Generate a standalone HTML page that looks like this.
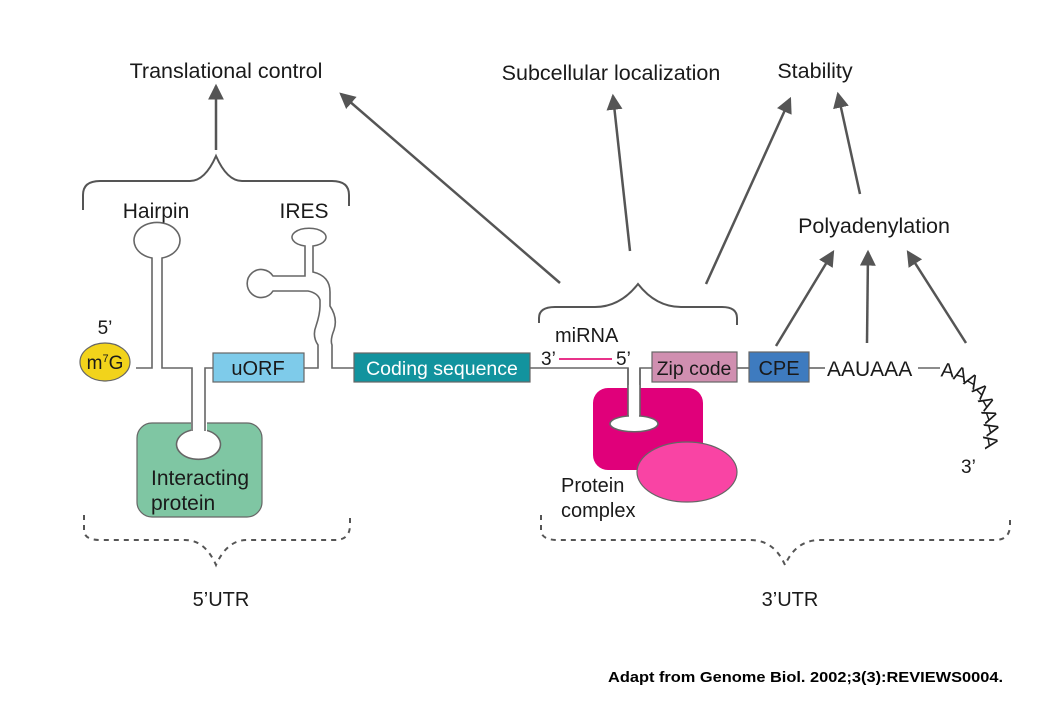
<!DOCTYPE html>
<html><head><meta charset="utf-8"><style>
html,body{margin:0;padding:0;background:#fff}
svg{display:block}
text{font-family:"Liberation Sans",Arial,sans-serif;fill:#1a1a1a}
</style></head><body>
<svg width="1059" height="709" viewBox="0 0 1059 709" xmlns="http://www.w3.org/2000/svg">
<defs>
<marker id="ah" markerWidth="16" markerHeight="16" refX="12" refY="7" orient="auto" markerUnits="userSpaceOnUse" viewBox="0 0 14 14">
<path d="M0,0 L14,7 L0,14 z" fill="#555"/>
</marker>
</defs>
<g stroke="#555" stroke-width="2.5" fill="none">
<line x1="216" y1="150" x2="216" y2="86" marker-end="url(#ah)"/>
<line x1="560" y1="283" x2="341" y2="94" marker-end="url(#ah)"/>
<line x1="630" y1="251" x2="613" y2="96" marker-end="url(#ah)"/>
<line x1="706" y1="284" x2="790" y2="99" marker-end="url(#ah)"/>
<line x1="860" y1="194" x2="838" y2="94" marker-end="url(#ah)"/>
<line x1="776" y1="346" x2="833" y2="252" marker-end="url(#ah)"/>
<line x1="867" y1="343" x2="868" y2="252" marker-end="url(#ah)"/>
<line x1="966" y1="343" x2="908" y2="252" marker-end="url(#ah)"/>
</g>
<g stroke="#555" stroke-width="2" fill="none">
<path d="M83,210 V195 Q83,181 100,181 H190 Q205,181 216,156 Q227,181 242,181 H332 Q349,181 349,195 V206"/>
<path d="M539,323 V318 Q539,307 555,307 H595 Q620,307 638,284 Q656,307 681,307 H722 Q737,307 737,318 V325"/>
</g>
<g stroke="#555" stroke-width="2" fill="none" stroke-dasharray="5,5">
<path d="M84,515 V530 Q84,540 100,540 H185 Q205,540 216,565 Q227,540 247,540 H335 Q350,540 350,525 V515"/>
<path d="M541,515 V530 Q541,540 558,540 H750 Q774,540 785,565 Q796,540 820,540 H995 Q1010,540 1010,525 V515"/>
</g>
<g stroke="#666" stroke-width="1.6" fill="#fff">
<path d="M136,368 H152 V258 A23,18 0 1 1 162,258 V368 H192 V430 A22,15 0 1 0 205,430 V368 H213" />
<path d="M304,368 H318 V345 Q312,336 316,326 Q320,314 320,306 V300 Q318,293 308,291 H273 A14,14 0 1 1 273,276 H305 V246 A17,9 0 1 1 313,246 V272 Q330,276 330,292 V306 Q338,318 334,330 Q330,340 332,345 V368 H354"/>
<path d="M530,368 H628 V415 A24,9 0 1 0 640,415 V368 H652" fill="none"/>
<line x1="737" y1="368" x2="749" y2="368"/>
<line x1="809" y1="368" x2="825" y2="368"/>
<line x1="918" y1="368" x2="940" y2="368"/>
</g>
<ellipse cx="105" cy="362" rx="25" ry="19" fill="#f2d31b" stroke="#666" stroke-width="1.2"/>
<text x="105" y="369" font-size="19" text-anchor="middle">m<tspan font-size="11" dy="-7">7</tspan><tspan dy="7">G</tspan></text>
<text x="105" y="334" font-size="19" text-anchor="middle">5’</text>
<rect x="213" y="353" width="91" height="29" fill="#7ecbea" stroke="#666" stroke-width="1.2"/>
<text x="258" y="375" font-size="20" text-anchor="middle">uORF</text>
<rect x="137" y="423" width="125" height="94" rx="15" fill="#7fc6a3" stroke="#666" stroke-width="1.2"/>
<path d="M192,430 A22,15 0 1 0 205,430" fill="#fff" stroke="#666" stroke-width="1.6"/>
<rect x="191" y="420" width="16" height="12" fill="#fff"/>
<line x1="192" y1="420" x2="192" y2="431" stroke="#666" stroke-width="1.6"/>
<line x1="205" y1="420" x2="205" y2="431" stroke="#666" stroke-width="1.6"/>
<text x="151" y="485" font-size="21">Interacting</text>
<text x="151" y="510" font-size="21">protein</text>
<rect x="354" y="353" width="176" height="29" fill="#12939e" stroke="#666" stroke-width="1.2"/>
<text x="442" y="375" font-size="19.5" text-anchor="middle" style="fill:#fff">Coding sequence</text>
<rect x="593" y="388" width="110" height="82" rx="15" fill="#e0007a"/>
<rect x="628" y="385" width="12" height="32" fill="#fff"/>
<line x1="628" y1="368" x2="628" y2="416" stroke="#666" stroke-width="1.6"/>
<line x1="640" y1="368" x2="640" y2="416" stroke="#666" stroke-width="1.6"/>
<path d="M628,416 A24,8 0 1 0 640,416 Z" fill="#fff" stroke="#666" stroke-width="1.6"/>
<rect x="629" y="410" width="10" height="8" fill="#fff"/>
<ellipse cx="687" cy="472" rx="50" ry="30" fill="#f944a4" stroke="#666" stroke-width="1.2"/>
<text x="561" y="492" font-size="20">Protein</text>
<text x="561" y="517" font-size="20">complex</text>
<rect x="652" y="352" width="85" height="30" fill="#d08fb0" stroke="#666" stroke-width="1.2"/>
<text x="694" y="375" font-size="19.5" text-anchor="middle">Zip code</text>
<rect x="749" y="352" width="60" height="30" fill="#3e7bbf" stroke="#666" stroke-width="1.2"/>
<text x="779" y="375" font-size="20" text-anchor="middle">CPE</text>
<text x="827" y="376" font-size="21">AAUAAA</text>
<text x="555" y="342" font-size="20">miRNA</text>
<text x="541" y="365" font-size="19">3’</text>
<text x="616" y="365" font-size="19">5’</text>
<line x1="559" y1="359" x2="612" y2="359" stroke="#e8338a" stroke-width="2"/>
<g font-size="20">
<text x="941" y="377" transform="rotate(5 948 370)">A</text>
<text x="954" y="381" transform="rotate(15 961 374)">A</text>
<text x="965" y="388" transform="rotate(30 972 381)">A</text>
<text x="974" y="398" transform="rotate(45 981 391)">A</text>
<text x="980" y="410" transform="rotate(60 987 403)">A</text>
<text x="983" y="423" transform="rotate(70 990 416)">A</text>
<text x="985" y="436" transform="rotate(75 992 429)">A</text>
<text x="984" y="449" transform="rotate(80 991 442)">A</text>
</g>
<text x="961" y="473" font-size="19">3’</text>
<text x="226" y="78" font-size="21.5" text-anchor="middle">Translational control</text>
<text x="611" y="80" font-size="21.5" text-anchor="middle">Subcellular localization</text>
<text x="815" y="78" font-size="21.5" text-anchor="middle">Stability</text>
<text x="874" y="233" font-size="21.5" text-anchor="middle">Polyadenylation</text>
<text x="156" y="218" font-size="21" text-anchor="middle">Hairpin</text>
<text x="304" y="218" font-size="21" text-anchor="middle">IRES</text>
<text x="221" y="606" font-size="20" text-anchor="middle">5’UTR</text>
<text x="790" y="606" font-size="20" text-anchor="middle">3’UTR</text>
<text x="1003" y="682" font-size="15" font-weight="bold" text-anchor="end" textLength="395" lengthAdjust="spacingAndGlyphs" style="fill:#000">Adapt from Genome Biol. 2002;3(3):REVIEWS0004.</text>
</svg>
</body></html>
